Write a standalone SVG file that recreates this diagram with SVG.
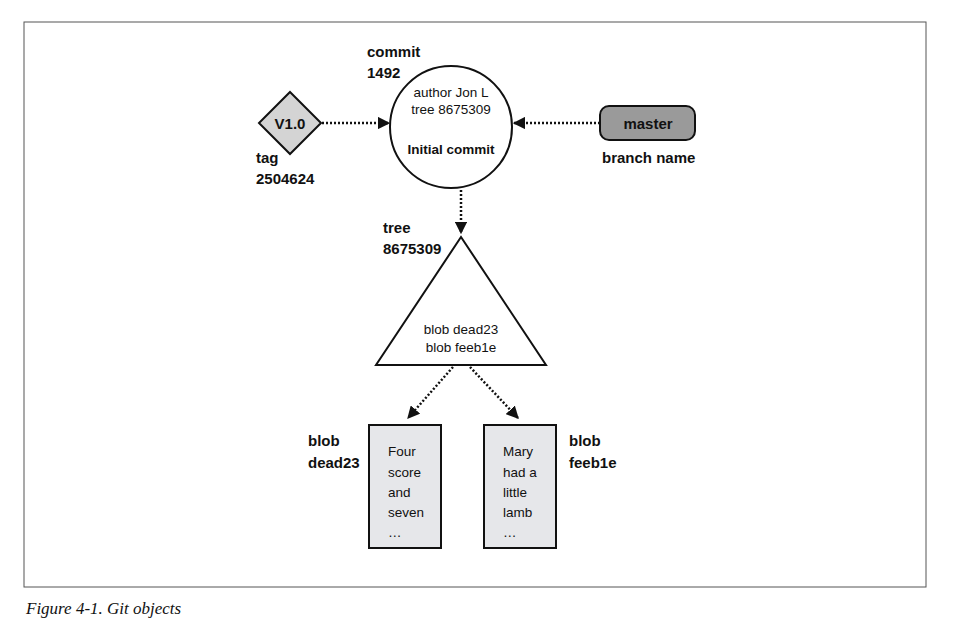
<svg xmlns="http://www.w3.org/2000/svg" width="953" height="623" viewBox="0 0 953 623">
<style>
text{font-family:"Liberation Sans",Arial,sans-serif;fill:#111}
.l{font-size:15px;font-weight:bold}
.n{font-size:13.5px}
.c{text-anchor:middle}
.s{stroke:#111;stroke-width:2}
.d{stroke:#111;stroke-width:2.5;stroke-dasharray:2 2;fill:none}
</style>
<defs><marker id="a" viewBox="0 0 10 10" refX="9" refY="5" markerWidth="5" markerHeight="5" orient="auto" markerUnits="strokeWidth"><path d="M0,0L10,5L0,10z" fill="#111"/></marker></defs>
<rect x="24" y="22" width="902" height="565" fill="#fff" stroke="#555" stroke-width="1"/>
<text x="26" y="614" style="font-family:'Liberation Serif',serif;font-style:italic;font-size:17px">Figure 4-1. Git objects</text>
<g id="connectors">
<path class="d" d="M322,123H389" marker-end="url(#a)"/>
<path class="d" d="M600,123H514" marker-end="url(#a)"/>
<path class="d" d="M461,190V233" marker-end="url(#a)"/>
<path class="d" d="M453,367L408,418" marker-end="url(#a)"/>
<path class="d" d="M470,367L518,418" marker-end="url(#a)"/>
</g>
<g id="commit">
<circle cx="451" cy="127" r="61" fill="#fff" class="s"/>
<text class="n c" x="451" y="97">author Jon L</text>
<text class="n c" x="451" y="114">tree 8675309</text>
<text class="n c" x="451" y="154" font-weight="bold">Initial commit</text>
<text class="l" x="367" y="57">commit</text>
<text class="l" x="367" y="78">1492</text>
</g>
<g id="tag">
<path d="M290,92L321,123L290,154L259,123z" fill="#d4d4d4" class="s"/>
<text class="l c" x="290" y="129">V1.0</text>
<text class="l" x="256" y="163">tag</text>
<text class="l" x="256" y="184">2504624</text>
</g>
<g id="master">
<rect x="600" y="106" width="95" height="34" rx="9" fill="#9a9a9a" class="s"/>
<text class="l c" x="648" y="129">master</text>
<text class="l" x="602" y="163">branch name</text>
</g>
<g id="tree">
<path d="M461,237L546,365H376z" fill="#fff" class="s"/>
<text class="n c" x="461" y="334">blob dead23</text>
<text class="n c" x="461" y="352">blob feeb1e</text>
<text class="l" x="383" y="233">tree</text>
<text class="l" x="383" y="254">8675309</text>
</g>
<g id="blob1">
<rect x="369" y="425" width="72" height="123" fill="#e6e7ea" class="s"/>
<text class="n" x="388" y="456">Four</text>
<text class="n" x="388" y="477">score</text>
<text class="n" x="388" y="497">and</text>
<text class="n" x="388" y="517">seven</text>
<text class="n" x="388" y="537">…</text>
<text class="l" x="308" y="446">blob</text>
<text class="l" x="308" y="468">dead23</text>
</g>
<g id="blob2">
<rect x="484" y="425" width="72" height="123" fill="#e6e7ea" class="s"/>
<text class="n" x="503" y="456">Mary</text>
<text class="n" x="503" y="477">had a</text>
<text class="n" x="503" y="497">little</text>
<text class="n" x="503" y="517">lamb</text>
<text class="n" x="503" y="537">…</text>
<text class="l" x="569" y="446">blob</text>
<text class="l" x="569" y="468">feeb1e</text>
</g>
</svg>
